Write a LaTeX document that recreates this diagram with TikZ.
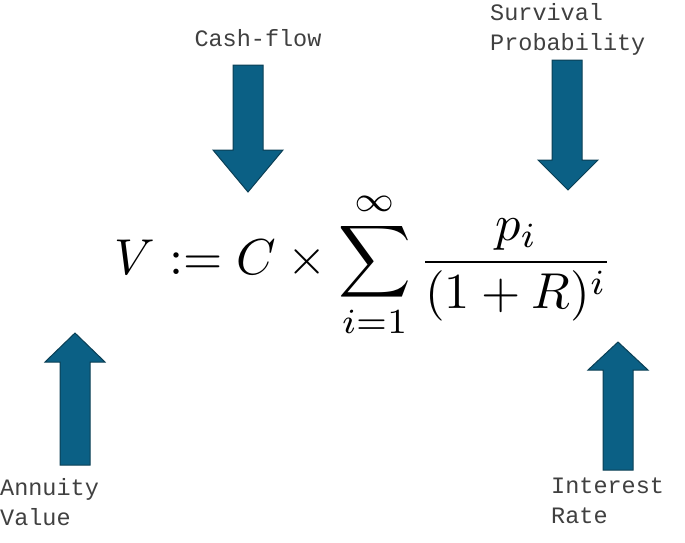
\documentclass[tikz,border=0pt]{standalone}
\usepackage{fontspec}
\setmonofont{Liberation Mono}
\usepackage{graphicx}
\definecolor{arrfill}{HTML}{0B6085}
\definecolor{arrline}{HTML}{0A3F55}
\tikzset{blk/.style={fill=arrfill,draw=arrline,line width=1pt},
 lbl/.style={font=\fontsize{23.5}{30}\selectfont\ttfamily,text=black!75,align=left,inner sep=0}}
\begin{document}
\begin{tikzpicture}[x=1pt,y=-1pt]
\useasboundingbox (0,0) rectangle (685,542);
% down arrows
\draw[blk] (233,65)--(263,65)--(263,150)--(283,150)--(248,192)--(213,150)--(233,150)--cycle;
\draw[blk] (552,60)--(582,60)--(582,160)--(598,160)--(568,190)--(538,160)--(552,160)--cycle;
% up arrows
\draw[blk] (60,465)--(90,465)--(90,362)--(105,362)--(75,333)--(45,362)--(60,362)--cycle;
\draw[blk] (603,470)--(633,470)--(633,370)--(648,370)--(618,342)--(588,370)--(603,370)--cycle;
\node[lbl] (cf) at (258,38) {Cash-flow};
\node[lbl,anchor=north west] (sp) at (490,3) {Survival\\Probability};
\node[lbl,anchor=north west] (av) at (0,478) {Annuity\\Value};
\node[lbl,anchor=north west] (ir) at (551,478) {Interest\\Rate};
\node[inner sep=0] (f) at (364,265) {\resizebox{498pt}{!}{$\displaystyle V := C \times \sum_{i=1}^{\infty}\frac{p_i}{(1+R)^i}$}};
\end{tikzpicture}
\end{document}
